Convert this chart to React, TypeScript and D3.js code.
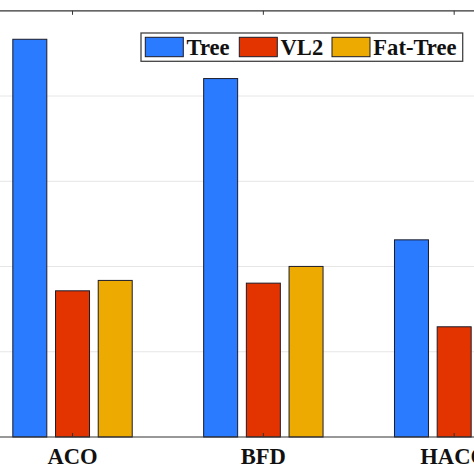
import React from "react";
import * as d3 from "d3";

const categories = ["ACO", "BFD", "HACO"];
const seriesNames = ["Tree", "VL2", "Fat-Tree"];
const treeValues = [4.666, 4.205, 2.313];
const vl2Values = [1.715, 1.805, 1.293];
const fatTreeValues = [1.837, 2.001, 1.45];
const gridValues = [1, 2, 3, 4];
const seriesColors = ["#2A7BFF", "#E33400", "#EDAA00"];

const W = 474;
const H = 474;

export default function App() {
  const allSeries = [treeValues, vl2Values, fatTreeValues];
  const x0 = d3.scaleBand<string>().domain(categories).range([-22.9, 549.6]).paddingInner(0).paddingOuter(0);
  const x1 = d3.scaleBand<string>().domain(seriesNames).range([-59.7, 59.7]).paddingInner(0.204).paddingOuter(0);
  const y = d3.scaleLinear().domain([0, 5]).range([437, 10.8]);
  const center = (c: string) => (x0(c) as number) + x0.bandwidth() / 2;
  const plotLeft = -22.9;
  const plotRight = 549.6;
  const font = "'Liberation Serif', 'Times New Roman', serif";

  const legendItems = [
    { name: "Tree", sw: 145.3, tx: 186.5 },
    { name: "VL2", sw: 239.3, tx: 280.5 },
    { name: "Fat-Tree", sw: 332, tx: 373.3 },
  ];

  return (
    <svg width={W} height={H} style={{ position: "fixed", left: 0, top: 0, background: "#fff" }}>
      <rect x={0} y={0} width={W} height={H} fill="#fff" />
      {gridValues.map((g) => (
        <line key={g} x1={plotLeft} x2={plotRight} y1={y(g)} y2={y(g)} stroke="#e6e6e6" strokeWidth={1} />
      ))}
      {categories.map((c, ci) =>
        seriesNames.map((s, si) => {
          const v = allSeries[si][ci];
          const bx = center(c) + (x1(s) as number);
          return (
            <rect
              key={c + s}
              x={bx}
              y={y(v)}
              width={x1.bandwidth()}
              height={y(0) - y(v)}
              fill={seriesColors[si]}
              stroke="#1c1c2a"
              strokeWidth={1}
            />
          );
        })
      )}
      <line x1={plotLeft} x2={plotRight} y1={y(0)} y2={y(0)} stroke="#333" strokeWidth={1.2} />
      <line x1={plotLeft} x2={plotRight} y1={y(5)} y2={y(5)} stroke="#333" strokeWidth={1.2} />
      {categories.map((c) => (
        <g key={c}>
          <line x1={center(c)} x2={center(c)} y1={y(0)} y2={y(0) - 4} stroke="#333" strokeWidth={1} />
          <line x1={center(c)} x2={center(c)} y1={y(5)} y2={y(5) + 4} stroke="#333" strokeWidth={1} />
          <text
            x={center(c)}
            y={463.8}
            textAnchor="middle"
            fontFamily={font}
            fontWeight="bold"
            fontSize={22.6}
            fill="#111"
          >
            {c}
          </text>
        </g>
      ))}
      <rect x={141} y={33} width={321.7} height={28.3} fill="#fff" stroke="#444" strokeWidth={1.3} />
      {legendItems.map((it, i) => (
        <g key={it.name}>
          <rect x={it.sw} y={37.3} width={38} height={19.4} fill={seriesColors[i]} stroke="#1c1c2a" strokeWidth={1} />
          <text x={it.tx} y={55.2} fontFamily={font} fontWeight="bold" fontSize={22.6} fill="#111">
            {it.name}
          </text>
        </g>
      ))}
    </svg>
  );
}
